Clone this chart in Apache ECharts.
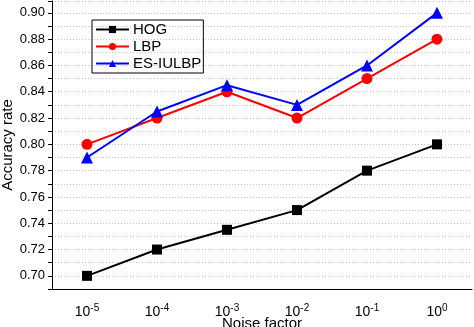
<!DOCTYPE html>
<html><head><meta charset="utf-8">
<script src="https://cdn.jsdelivr.net/npm/echarts@6/dist/echarts.min.js"></script>
<style>html,body{margin:0;padding:0;background:#fff}#c{width:474px;height:327px}</style>
</head><body><div id="c"></div>
<script>
const categories = ['-5', '-4', '-3', '-2', '-1', '0'];
const hog = [0.70, 0.72, 0.735, 0.75, 0.78, 0.80];
const lbp = [0.80, 0.82, 0.84, 0.82, 0.85, 0.88];
const esiulbp = [0.79, 0.825, 0.845, 0.83, 0.86, 0.90];
const yMajorLabels = [0.70, 0.72, 0.74, 0.76, 0.78, 0.80, 0.82, 0.84, 0.86, 0.88, 0.90];

const font = 'Liberation Sans, Arial, sans-serif';
const chart = echarts.init(document.getElementById('c'));
chart.setOption({
  animation: false,
  grid: { left: 52, right: 2, top: 1, bottom: 38, containLabel: false, outerBoundsMode: 'none' },
  legend: {
    left: 92, top: 20, orient: 'vertical',
    borderColor: '#000', borderWidth: 1, borderRadius: 0,
    padding: [2, 2, 2, 3], itemGap: 2, itemWidth: 33, itemHeight: 9,
    textStyle: { fontFamily: font, fontSize: 15, color: '#000', padding: [0, 0, 0, -1] },
    data: ['HOG', 'LBP', 'ES-IULBP']
  },
  xAxis: [{
    type: 'category', data: categories, boundaryGap: true,
    axisLine: { lineStyle: { color: '#000', width: 1 } },
    axisTick: { alignWithLabel: true, interval: 0, length: 5, lineStyle: { color: '#000' } },
    axisLabel: {
      interval: 0, margin: 14, color: '#000', fontFamily: font,
      formatter: v => '{b|10}{s|' + v + '}',
      rich: { b: { fontSize: 14, fontFamily: font, color: '#000' },
              s: { fontSize: 10, fontFamily: font, color: '#000', verticalAlign: 'top', padding: [0, 0, 8, 0] } }
    },
    name: 'Noise factor', nameLocation: 'middle', nameGap: 27, nameMoveOverlap: false,
    nameTextStyle: { fontFamily: font, fontSize: 15, color: '#000' },
    splitLine: { show: false }
  }, {
    type: 'category', data: categories, boundaryGap: true, position: 'bottom',
    axisLine: { show: false },
    axisTick: { interval: 0, length: 3, lineStyle: { color: '#000' } },
    axisLabel: { show: false }, splitLine: { show: false }
  }],
  yAxis: {
    type: 'value', min: 0.69, max: 0.909, interval: 0.01,
    axisLine: { show: true, lineStyle: { color: '#000', width: 1 } },
    axisTick: { show: true, length: 4, lineStyle: { color: '#000' } },
    axisLabel: {
      margin: 7, color: '#000', fontFamily: font, fontSize: 13,
      formatter: v => {
        const r = Math.round(v * 100) / 100;
        return yMajorLabels.some(m => Math.abs(m - r) < 1e-6) ? r.toFixed(2) : '';
      }
    },
    splitLine: { show: true, lineStyle: { color: '#c8c8c8', type: [1, 2], width: 1 } },
    name: 'Accuracy rate', nameLocation: 'middle', nameGap: 37, nameMoveOverlap: false,
    nameTextStyle: { fontFamily: font, fontSize: 15, color: '#000' }
  },
  series: [
    { name: 'HOG', type: 'line', data: hog, symbol: 'rect', symbolSize: 10,
      lineStyle: { color: '#000', width: 2 }, itemStyle: { color: '#000' } },
    { name: 'LBP', type: 'line', data: lbp, symbol: 'circle', symbolSize: 11,
      lineStyle: { color: '#ff0000', width: 2 }, itemStyle: { color: '#ff0000' } },
    { name: 'ES-IULBP', type: 'line', data: esiulbp, symbol: 'triangle', symbolSize: 12,
      lineStyle: { color: '#0000ff', width: 2 }, itemStyle: { color: '#0000ff' } }
  ]
});
</script></body></html>
